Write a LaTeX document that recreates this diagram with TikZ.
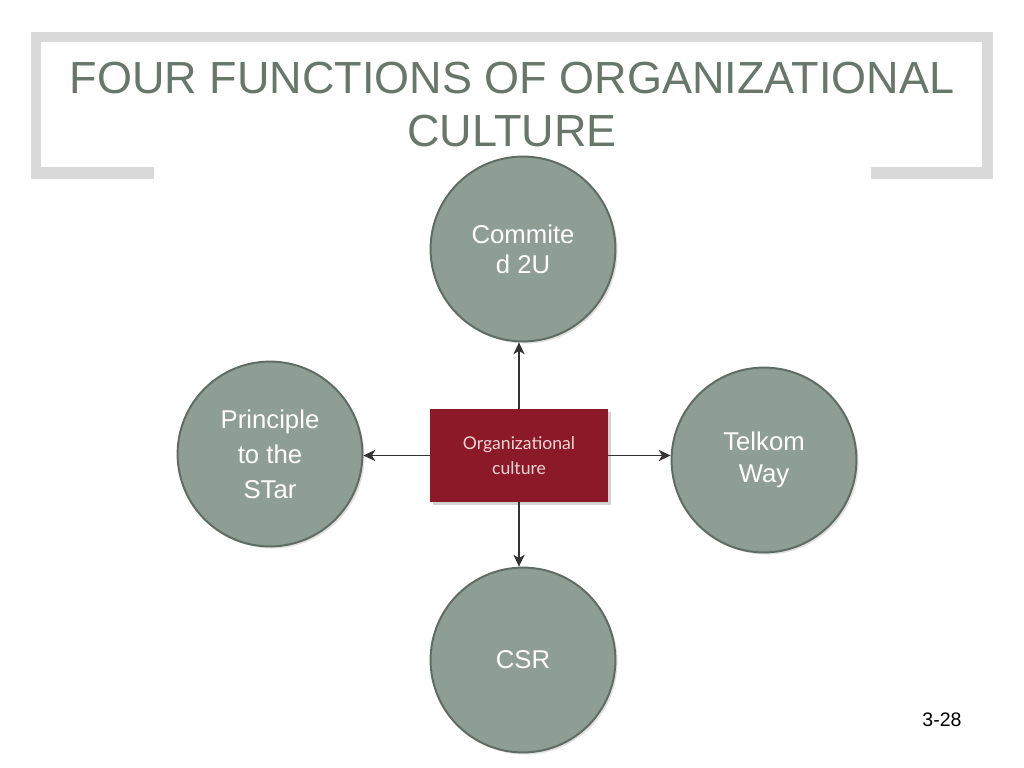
\documentclass[tikz,border=0pt]{standalone}
\usepackage{fontspec}
\setmainfont{Liberation Sans}
\newfontfamily\boxfont{Lato}
\usepackage{tikz}
\usetikzlibrary{arrows.meta,positioning,shadows}
\usepackage{xcolor}
\definecolor{titlegray}{RGB}{104,118,108}
\definecolor{circfill}{RGB}{143,158,148}
\definecolor{circline}{RGB}{94,108,99}
\definecolor{orgred}{RGB}{139,25,40}
\definecolor{orgtext}{RGB}{242,214,214}
\definecolor{framegray}{RGB}{217,217,217}

\begin{document}
\begin{tikzpicture}[x=0.025cm, y=-0.025cm,
    func/.style={circle, draw=circline, line width=1.4pt, fill=circfill, minimum size=4.62cm, inner sep=0pt, align=center, text=white, font=\fontsize{18.3}{22.8}\selectfont, drop shadow={opacity=0.25, shadow xshift=1.5pt, shadow yshift=-1.5pt}},
    orgbox/.style={rectangle, fill=orgred, minimum width=4.45cm, minimum height=2.33cm, align=center, text=orgtext, font=\boxfont\fontsize{12.5}{17.5}\selectfont, drop shadow={opacity=0.35, shadow xshift=2pt, shadow yshift=-2pt}},
    arrow/.style={-{Stealth[length=8.5pt, width=8pt, inset=2.5pt]}, line width=0.8pt, draw=black!80},
    every node/.style={inner sep=0pt}
]
    \useasboundingbox (0,0) rectangle (1024,768);

    % Title frame
    \fill[framegray] (31,32) rectangle (993,179);
    \fill[white] (41,42) rectangle (982,167);
    \fill[white] (154,166) rectangle (871,180);

    % Title
    \node[align=center, text=titlegray, font=\fontsize{32}{37.7}\selectfont]
        (title) at (512,104.5) {FOUR FUNCTIONS OF ORGANIZATIONAL\\CULTURE};

    % Centre
    \node[orgbox] (org) at (519,455.5) {Organizational\\culture};

    % Functions
    \node[func, font=\fontsize{18.3}{21.3}\selectfont] (commit) at (523,249) {Commite\\d 2U};
    \node[func, font=\fontsize{18.3}{24.9}\selectfont] (principle) at (270,454) {Principle\\to the\\STar};
    \node[func] (telkom) at (764,460) {Telkom\\Way};
    \node[func] (csr) at (523,660) {CSR};

    % Page number
    \node[anchor=base, font=\fontsize{13.9}{16}\selectfont] (page) at (942,726) {3-28};

    % Arrows
    \draw[arrow] (org.north) -- (org.north |- commit.south);
    \draw[arrow] (org.south) -- (org.south |- csr.north);
    \draw[arrow] (org.west) -- (org.west -| principle.east);
    \draw[arrow] (org.east) -- (org.east -| telkom.west);
\end{tikzpicture}
\end{document}
